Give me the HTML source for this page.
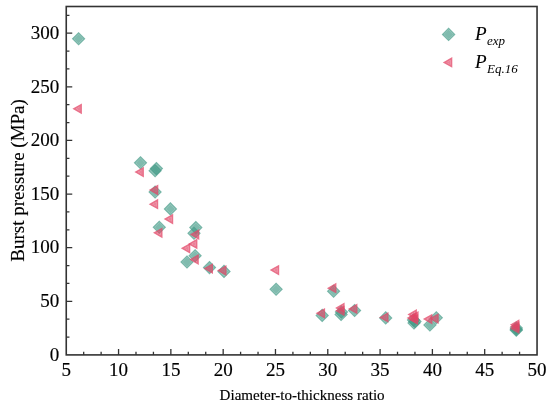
<!DOCTYPE html>
<html><head><meta charset="utf-8"><title>Burst pressure vs diameter-to-thickness ratio</title>
<style>html,body{margin:0;padding:0;background:#fff;}body{width:550px;height:407px;overflow:hidden;}svg{display:block;}text{font-family:"Liberation Serif","Times New Roman",serif;fill:#000;stroke:#000;stroke-width:0.15px;}</style></head><body>
<svg width="550" height="407" viewBox="0 0 550 407">
<rect width="550" height="407" fill="#fff"/>
<g fill="#429a86">
<path fill-rule="evenodd" fill-opacity="0.72" d="M71.80 38.80L78.60 32.00L85.40 38.80L78.60 45.60ZM73.92 38.80L78.60 34.12L83.28 38.80L78.60 43.48Z"/><path fill-opacity="0.67" d="M73.92 38.80L78.60 34.12L83.28 38.80L78.60 43.48Z"/>
<path fill-rule="evenodd" fill-opacity="0.72" d="M133.70 162.80L140.50 156.00L147.30 162.80L140.50 169.60ZM135.82 162.80L140.50 158.12L145.18 162.80L140.50 167.48Z"/><path fill-opacity="0.67" d="M135.82 162.80L140.50 158.12L145.18 162.80L140.50 167.48Z"/>
<path fill-rule="evenodd" fill-opacity="0.72" d="M149.60 168.60L156.40 161.80L163.20 168.60L156.40 175.40ZM151.72 168.60L156.40 163.92L161.08 168.60L156.40 173.28Z"/><path fill-opacity="0.67" d="M151.72 168.60L156.40 163.92L161.08 168.60L156.40 173.28Z"/>
<path fill-rule="evenodd" fill-opacity="0.72" d="M148.30 170.70L155.10 163.90L161.90 170.70L155.10 177.50ZM150.42 170.70L155.10 166.02L159.78 170.70L155.10 175.38Z"/><path fill-opacity="0.67" d="M150.42 170.70L155.10 166.02L159.78 170.70L155.10 175.38Z"/>
<path fill-rule="evenodd" fill-opacity="0.72" d="M148.30 192.00L155.10 185.20L161.90 192.00L155.10 198.80ZM150.42 192.00L155.10 187.32L159.78 192.00L155.10 196.68Z"/><path fill-opacity="0.67" d="M150.42 192.00L155.10 187.32L159.78 192.00L155.10 196.68Z"/>
<path fill-rule="evenodd" fill-opacity="0.72" d="M163.60 208.90L170.40 202.10L177.20 208.90L170.40 215.70ZM165.72 208.90L170.40 204.22L175.08 208.90L170.40 213.58Z"/><path fill-opacity="0.67" d="M165.72 208.90L170.40 204.22L175.08 208.90L170.40 213.58Z"/>
<path fill-rule="evenodd" fill-opacity="0.72" d="M152.50 227.30L159.30 220.50L166.10 227.30L159.30 234.10ZM154.62 227.30L159.30 222.62L163.98 227.30L159.30 231.98Z"/><path fill-opacity="0.67" d="M154.62 227.30L159.30 222.62L163.98 227.30L159.30 231.98Z"/>
<path fill-rule="evenodd" fill-opacity="0.72" d="M189.00 227.60L195.80 220.80L202.60 227.60L195.80 234.40ZM191.12 227.60L195.80 222.92L200.48 227.60L195.80 232.28Z"/><path fill-opacity="0.67" d="M191.12 227.60L195.80 222.92L200.48 227.60L195.80 232.28Z"/>
<path fill-rule="evenodd" fill-opacity="0.72" d="M187.20 233.20L194.00 226.40L200.80 233.20L194.00 240.00ZM189.32 233.20L194.00 228.52L198.68 233.20L194.00 237.88Z"/><path fill-opacity="0.67" d="M189.32 233.20L194.00 228.52L198.68 233.20L194.00 237.88Z"/>
<path fill-rule="evenodd" fill-opacity="0.72" d="M188.30 255.70L195.10 248.90L201.90 255.70L195.10 262.50ZM190.42 255.70L195.10 251.02L199.78 255.70L195.10 260.38Z"/><path fill-opacity="0.67" d="M190.42 255.70L195.10 251.02L199.78 255.70L195.10 260.38Z"/>
<path fill-rule="evenodd" fill-opacity="0.72" d="M180.20 262.00L187.00 255.20L193.80 262.00L187.00 268.80ZM182.32 262.00L187.00 257.32L191.68 262.00L187.00 266.68Z"/><path fill-opacity="0.67" d="M182.32 262.00L187.00 257.32L191.68 262.00L187.00 266.68Z"/>
<path fill-rule="evenodd" fill-opacity="0.72" d="M202.70 267.60L209.50 260.80L216.30 267.60L209.50 274.40ZM204.82 267.60L209.50 262.92L214.18 267.60L209.50 272.28Z"/><path fill-opacity="0.67" d="M204.82 267.60L209.50 262.92L214.18 267.60L209.50 272.28Z"/>
<path fill-rule="evenodd" fill-opacity="0.72" d="M217.20 271.40L224.00 264.60L230.80 271.40L224.00 278.20ZM219.32 271.40L224.00 266.72L228.68 271.40L224.00 276.08Z"/><path fill-opacity="0.67" d="M219.32 271.40L224.00 266.72L228.68 271.40L224.00 276.08Z"/>
<path fill-rule="evenodd" fill-opacity="0.72" d="M269.30 289.30L276.10 282.50L282.90 289.30L276.10 296.10ZM271.42 289.30L276.10 284.62L280.78 289.30L276.10 293.98Z"/><path fill-opacity="0.67" d="M271.42 289.30L276.10 284.62L280.78 289.30L276.10 293.98Z"/>
<path fill-rule="evenodd" fill-opacity="0.72" d="M326.80 291.30L333.60 284.50L340.40 291.30L333.60 298.10ZM328.92 291.30L333.60 286.62L338.28 291.30L333.60 295.98Z"/><path fill-opacity="0.67" d="M328.92 291.30L333.60 286.62L338.28 291.30L333.60 295.98Z"/>
<path fill-rule="evenodd" fill-opacity="0.72" d="M315.40 315.40L322.20 308.60L329.00 315.40L322.20 322.20ZM317.52 315.40L322.20 310.72L326.88 315.40L322.20 320.08Z"/><path fill-opacity="0.67" d="M317.52 315.40L322.20 310.72L326.88 315.40L322.20 320.08Z"/>
<path fill-rule="evenodd" fill-opacity="0.72" d="M334.60 312.00L341.40 305.20L348.20 312.00L341.40 318.80ZM336.72 312.00L341.40 307.32L346.08 312.00L341.40 316.68Z"/><path fill-opacity="0.67" d="M336.72 312.00L341.40 307.32L346.08 312.00L341.40 316.68Z"/>
<path fill-rule="evenodd" fill-opacity="0.72" d="M334.30 314.50L341.10 307.70L347.90 314.50L341.10 321.30ZM336.42 314.50L341.10 309.82L345.78 314.50L341.10 319.18Z"/><path fill-opacity="0.67" d="M336.42 314.50L341.10 309.82L345.78 314.50L341.10 319.18Z"/>
<path fill-rule="evenodd" fill-opacity="0.72" d="M347.80 310.50L354.60 303.70L361.40 310.50L354.60 317.30ZM349.92 310.50L354.60 305.82L359.28 310.50L354.60 315.18Z"/><path fill-opacity="0.67" d="M349.92 310.50L354.60 305.82L359.28 310.50L354.60 315.18Z"/>
<path fill-rule="evenodd" fill-opacity="0.72" d="M378.90 317.90L385.70 311.10L392.50 317.90L385.70 324.70ZM381.02 317.90L385.70 313.22L390.38 317.90L385.70 322.58Z"/><path fill-opacity="0.67" d="M381.02 317.90L385.70 313.22L390.38 317.90L385.70 322.58Z"/>
<path fill-rule="evenodd" fill-opacity="0.72" d="M406.70 320.00L413.50 313.20L420.30 320.00L413.50 326.80ZM408.82 320.00L413.50 315.32L418.18 320.00L413.50 324.68Z"/><path fill-opacity="0.67" d="M408.82 320.00L413.50 315.32L418.18 320.00L413.50 324.68Z"/>
<path fill-rule="evenodd" fill-opacity="0.72" d="M408.20 321.50L415.00 314.70L421.80 321.50L415.00 328.30ZM410.32 321.50L415.00 316.82L419.68 321.50L415.00 326.18Z"/><path fill-opacity="0.67" d="M410.32 321.50L415.00 316.82L419.68 321.50L415.00 326.18Z"/>
<path fill-rule="evenodd" fill-opacity="0.72" d="M407.20 323.00L414.00 316.20L420.80 323.00L414.00 329.80ZM409.32 323.00L414.00 318.32L418.68 323.00L414.00 327.68Z"/><path fill-opacity="0.67" d="M409.32 323.00L414.00 318.32L418.68 323.00L414.00 327.68Z"/>
<path fill-rule="evenodd" fill-opacity="0.72" d="M423.10 325.00L429.90 318.20L436.70 325.00L429.90 331.80ZM425.22 325.00L429.90 320.32L434.58 325.00L429.90 329.68Z"/><path fill-opacity="0.67" d="M425.22 325.00L429.90 320.32L434.58 325.00L429.90 329.68Z"/>
<path fill-rule="evenodd" fill-opacity="0.72" d="M429.50 317.70L436.30 310.90L443.10 317.70L436.30 324.50ZM431.62 317.70L436.30 313.02L440.98 317.70L436.30 322.38Z"/><path fill-opacity="0.67" d="M431.62 317.70L436.30 313.02L440.98 317.70L436.30 322.38Z"/>
<path fill-rule="evenodd" fill-opacity="0.72" d="M509.50 328.00L516.30 321.20L523.10 328.00L516.30 334.80ZM511.62 328.00L516.30 323.32L520.98 328.00L516.30 332.68Z"/><path fill-opacity="0.67" d="M511.62 328.00L516.30 323.32L520.98 328.00L516.30 332.68Z"/>
<path fill-rule="evenodd" fill-opacity="0.72" d="M509.50 329.50L516.30 322.70L523.10 329.50L516.30 336.30ZM511.62 329.50L516.30 324.82L520.98 329.50L516.30 334.18Z"/><path fill-opacity="0.67" d="M511.62 329.50L516.30 324.82L520.98 329.50L516.30 334.18Z"/>
<path fill-rule="evenodd" fill-opacity="0.72" d="M509.50 330.30L516.30 323.50L523.10 330.30L516.30 337.10ZM511.62 330.30L516.30 325.62L520.98 330.30L516.30 334.98Z"/><path fill-opacity="0.67" d="M511.62 330.30L516.30 325.62L520.98 330.30L516.30 334.98Z"/>
</g>
<g fill="#e24667">
<path fill-rule="evenodd" fill-opacity="0.77" d="M72.40 108.80L81.90 103.40L81.90 114.20ZM76.00 108.80L80.10 106.47L80.10 111.13Z"/><path fill-opacity="0.68" d="M76.00 108.80L80.10 106.47L80.10 111.13Z"/>
<path fill-rule="evenodd" fill-opacity="0.77" d="M134.40 172.10L143.90 166.70L143.90 177.50ZM138.00 172.10L142.10 169.77L142.10 174.43Z"/><path fill-opacity="0.68" d="M138.00 172.10L142.10 169.77L142.10 174.43Z"/>
<path fill-rule="evenodd" fill-opacity="0.77" d="M148.80 190.00L158.30 184.60L158.30 195.40ZM152.40 190.00L156.50 187.67L156.50 192.33Z"/><path fill-opacity="0.68" d="M152.40 190.00L156.50 187.67L156.50 192.33Z"/>
<path fill-rule="evenodd" fill-opacity="0.77" d="M148.70 204.20L158.20 198.80L158.20 209.60ZM152.30 204.20L156.40 201.87L156.40 206.53Z"/><path fill-opacity="0.68" d="M152.30 204.20L156.40 201.87L156.40 206.53Z"/>
<path fill-rule="evenodd" fill-opacity="0.77" d="M163.70 219.10L173.20 213.70L173.20 224.50ZM167.30 219.10L171.40 216.77L171.40 221.43Z"/><path fill-opacity="0.68" d="M167.30 219.10L171.40 216.77L171.40 221.43Z"/>
<path fill-rule="evenodd" fill-opacity="0.77" d="M153.00 232.80L162.50 227.40L162.50 238.20ZM156.60 232.80L160.70 230.47L160.70 235.13Z"/><path fill-opacity="0.68" d="M156.60 232.80L160.70 230.47L160.70 235.13Z"/>
<path fill-rule="evenodd" fill-opacity="0.77" d="M189.80 234.50L199.30 229.10L199.30 239.90ZM193.40 234.50L197.50 232.17L197.50 236.83Z"/><path fill-opacity="0.68" d="M193.40 234.50L197.50 232.17L197.50 236.83Z"/>
<path fill-rule="evenodd" fill-opacity="0.77" d="M187.90 243.90L197.40 238.50L197.40 249.30ZM191.50 243.90L195.60 241.57L195.60 246.23Z"/><path fill-opacity="0.68" d="M191.50 243.90L195.60 241.57L195.60 246.23Z"/>
<path fill-rule="evenodd" fill-opacity="0.77" d="M180.80 248.30L190.30 242.90L190.30 253.70ZM184.40 248.30L188.50 245.97L188.50 250.63Z"/><path fill-opacity="0.68" d="M184.40 248.30L188.50 245.97L188.50 250.63Z"/>
<path fill-rule="evenodd" fill-opacity="0.77" d="M189.30 259.50L198.80 254.10L198.80 264.90ZM192.90 259.50L197.00 257.17L197.00 261.83Z"/><path fill-opacity="0.68" d="M192.90 259.50L197.00 257.17L197.00 261.83Z"/>
<path fill-rule="evenodd" fill-opacity="0.77" d="M203.50 268.60L213.00 263.20L213.00 274.00ZM207.10 268.60L211.20 266.27L211.20 270.93Z"/><path fill-opacity="0.68" d="M207.10 268.60L211.20 266.27L211.20 270.93Z"/>
<path fill-rule="evenodd" fill-opacity="0.77" d="M217.00 270.50L226.50 265.10L226.50 275.90ZM220.60 270.50L224.70 268.17L224.70 272.83Z"/><path fill-opacity="0.68" d="M220.60 270.50L224.70 268.17L224.70 272.83Z"/>
<path fill-rule="evenodd" fill-opacity="0.77" d="M269.70 270.10L279.20 264.70L279.20 275.50ZM273.30 270.10L277.40 267.77L277.40 272.43Z"/><path fill-opacity="0.68" d="M273.30 270.10L277.40 267.77L277.40 272.43Z"/>
<path fill-rule="evenodd" fill-opacity="0.77" d="M326.90 288.20L336.40 282.80L336.40 293.60ZM330.50 288.20L334.60 285.87L334.60 290.53Z"/><path fill-opacity="0.68" d="M330.50 288.20L334.60 285.87L334.60 290.53Z"/>
<path fill-rule="evenodd" fill-opacity="0.77" d="M315.60 313.30L325.10 307.90L325.10 318.70ZM319.20 313.30L323.30 310.97L323.30 315.63Z"/><path fill-opacity="0.68" d="M319.20 313.30L323.30 310.97L323.30 315.63Z"/>
<path fill-rule="evenodd" fill-opacity="0.77" d="M335.10 307.90L344.60 302.50L344.60 313.30ZM338.70 307.90L342.80 305.57L342.80 310.23Z"/><path fill-opacity="0.68" d="M338.70 307.90L342.80 305.57L342.80 310.23Z"/>
<path fill-rule="evenodd" fill-opacity="0.77" d="M335.10 310.80L344.60 305.40L344.60 316.20ZM338.70 310.80L342.80 308.47L342.80 313.13Z"/><path fill-opacity="0.68" d="M338.70 310.80L342.80 308.47L342.80 313.13Z"/>
<path fill-rule="evenodd" fill-opacity="0.77" d="M347.90 308.90L357.40 303.50L357.40 314.30ZM351.50 308.90L355.60 306.57L355.60 311.23Z"/><path fill-opacity="0.68" d="M351.50 308.90L355.60 306.57L355.60 311.23Z"/>
<path fill-rule="evenodd" fill-opacity="0.77" d="M379.00 317.40L388.50 312.00L388.50 322.80ZM382.60 317.40L386.70 315.07L386.70 319.73Z"/><path fill-opacity="0.68" d="M382.60 317.40L386.70 315.07L386.70 319.73Z"/>
<path fill-rule="evenodd" fill-opacity="0.77" d="M407.40 314.50L416.90 309.10L416.90 319.90ZM411.00 314.50L415.10 312.17L415.10 316.83Z"/><path fill-opacity="0.68" d="M411.00 314.50L415.10 312.17L415.10 316.83Z"/>
<path fill-rule="evenodd" fill-opacity="0.77" d="M409.10 316.50L418.60 311.10L418.60 321.90ZM412.70 316.50L416.80 314.17L416.80 318.83Z"/><path fill-opacity="0.68" d="M412.70 316.50L416.80 314.17L416.80 318.83Z"/>
<path fill-rule="evenodd" fill-opacity="0.77" d="M406.60 318.00L416.10 312.60L416.10 323.40ZM410.20 318.00L414.30 315.67L414.30 320.33Z"/><path fill-opacity="0.68" d="M410.20 318.00L414.30 315.67L414.30 320.33Z"/>
<path fill-rule="evenodd" fill-opacity="0.77" d="M408.60 319.50L418.10 314.10L418.10 324.90ZM412.20 319.50L416.30 317.17L416.30 321.83Z"/><path fill-opacity="0.68" d="M412.20 319.50L416.30 317.17L416.30 321.83Z"/>
<path fill-rule="evenodd" fill-opacity="0.77" d="M422.90 319.10L432.40 313.70L432.40 324.50ZM426.50 319.10L430.60 316.77L430.60 321.43Z"/><path fill-opacity="0.68" d="M426.50 319.10L430.60 316.77L430.60 321.43Z"/>
<path fill-rule="evenodd" fill-opacity="0.77" d="M429.20 318.60L438.70 313.20L438.70 324.00ZM432.80 318.60L436.90 316.27L436.90 320.93Z"/><path fill-opacity="0.68" d="M432.80 318.60L436.90 316.27L436.90 320.93Z"/>
<path fill-rule="evenodd" fill-opacity="0.77" d="M509.90 324.70L519.40 319.30L519.40 330.10ZM513.50 324.70L517.60 322.37L517.60 327.03Z"/><path fill-opacity="0.68" d="M513.50 324.70L517.60 322.37L517.60 327.03Z"/>
<path fill-rule="evenodd" fill-opacity="0.77" d="M509.90 326.60L519.40 321.20L519.40 332.00ZM513.50 326.60L517.60 324.27L517.60 328.93Z"/><path fill-opacity="0.68" d="M513.50 326.60L517.60 324.27L517.60 328.93Z"/>
<path fill-rule="evenodd" fill-opacity="0.77" d="M509.90 328.60L519.40 323.20L519.40 334.00ZM513.50 328.60L517.60 326.27L517.60 330.93Z"/><path fill-opacity="0.68" d="M513.50 328.60L517.60 326.27L517.60 330.93Z"/>
</g>
<rect x="66.25" y="6.5" width="470.8" height="348.4" fill="none" stroke="#333333" stroke-width="1.6"/>
<path d="M83.69 354.95V351.75 M101.12 354.95V351.75 M118.56 354.95V348.95 M135.99 354.95V351.75 M153.43 354.95V351.75 M170.86 354.95V348.95 M188.30 354.95V351.75 M205.73 354.95V351.75 M223.17 354.95V348.95 M240.60 354.95V351.75 M258.04 354.95V351.75 M275.47 354.95V348.95 M292.91 354.95V351.75 M310.34 354.95V351.75 M327.78 354.95V348.95 M345.21 354.95V351.75 M362.65 354.95V351.75 M380.08 354.95V348.95 M397.52 354.95V351.75 M414.95 354.95V351.75 M432.39 354.95V348.95 M449.82 354.95V351.75 M467.26 354.95V351.75 M484.69 354.95V348.95 M502.13 354.95V351.75 M519.56 354.95V351.75 M66.25 337.07H69.45 M66.25 319.20H69.45 M66.25 301.32H72.25 M66.25 283.45H69.45 M66.25 265.57H69.45 M66.25 247.70H72.25 M66.25 229.82H69.45 M66.25 211.95H69.45 M66.25 194.07H72.25 M66.25 176.20H69.45 M66.25 158.32H69.45 M66.25 140.45H72.25 M66.25 122.57H69.45 M66.25 104.70H69.45 M66.25 86.82H72.25 M66.25 68.95H69.45 M66.25 51.07H69.45 M66.25 33.20H72.25 M66.25 15.32H69.45" fill="none" stroke="#333333" stroke-width="1.3"/>
<g font-size="19px" text-anchor="middle">
<text x="66.2" y="376.3">5</text>
<text x="118.6" y="376.3">10</text>
<text x="170.9" y="376.3">15</text>
<text x="223.2" y="376.3">20</text>
<text x="275.5" y="376.3">25</text>
<text x="327.8" y="376.3">30</text>
<text x="380.1" y="376.3">35</text>
<text x="432.4" y="376.3">40</text>
<text x="484.7" y="376.3">45</text>
<text x="537.0" y="376.3">50</text>
</g>
<g font-size="19px" text-anchor="end">
<text x="59.3" y="360.6">0</text>
<text x="59.3" y="307.0">50</text>
<text x="59.3" y="253.4">100</text>
<text x="59.3" y="199.8">150</text>
<text x="59.3" y="146.1">200</text>
<text x="59.3" y="92.5">250</text>
<text x="59.3" y="38.9">300</text>
</g>
<text transform="translate(302.1 400) scale(1.055 1)" font-size="14.3px" text-anchor="middle">Diameter-to-thickness ratio</text>
<text transform="translate(23.9 180.4) rotate(-90)" font-size="19px" text-anchor="middle">Burst pressure (MPa)</text>
<g fill="#429a86"><path fill-rule="evenodd" fill-opacity="0.72" d="M441.70 34.40L448.60 27.50L455.50 34.40L448.60 41.30ZM443.82 34.40L448.60 29.62L453.38 34.40L448.60 39.18Z"/><path fill-opacity="0.67" d="M443.82 34.40L448.60 29.62L453.38 34.40L448.60 39.18Z"/></g>
<g fill="#e24667"><path fill-rule="evenodd" fill-opacity="0.77" d="M442.80 62.40L452.30 57.00L452.30 67.80ZM446.40 62.40L450.50 60.07L450.50 64.73Z"/><path fill-opacity="0.68" d="M446.40 62.40L450.50 60.07L450.50 64.73Z"/></g>
<text x="475.1" y="40.3" font-size="19px" font-style="italic" style="stroke-width:0.1px">P<tspan font-size="13px" style="stroke:none" dx="0.3" dy="4.6">exp</tspan></text>
<text x="475.1" y="68.3" font-size="19px" font-style="italic" style="stroke-width:0.1px">P<tspan font-size="13px" style="stroke:none" dx="0.3" dy="5">Eq.16</tspan></text>
</svg></body></html>
